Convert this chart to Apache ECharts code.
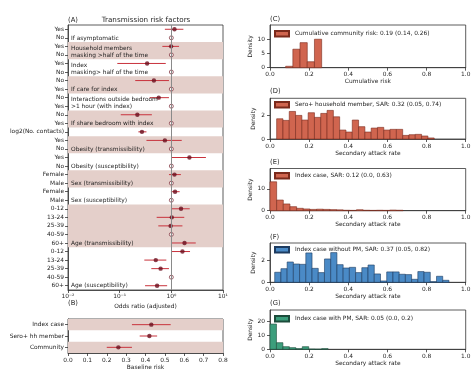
<!DOCTYPE html>
<html>
<head>
<meta charset="utf-8">
<script src="https://cdn.jsdelivr.net/npm/echarts@6.0.0/dist/echarts.min.js"></script>
<style>
html,body{margin:0;padding:0;background:#fff;}
#chart{width:474px;height:374px;}
</style>
</head>
<body>
<div id="chart"></div>
<script>
// ---------- Panel A data ----------
const rowLabels = ['Yes','No','Yes','No','Yes','No','No','Yes','No','Yes','No','Yes','log2(No. contacts)',
  'Yes','No','Yes','No','Female','Male','Female','Male',
  '0-12','13-24','25-39','40-59','60+','0-12','13-24','25-39','40-59','60+'];
const oddsRatio = [1.15,1,0.99,1,0.34,1,0.46,1,0.57,1,0.22,1,0.27,
  0.75,1,2.24,1,1.15,1,1.18,1,
  1.54,1.02,0.97,1,1.80,1.64,0.50,0.62,1,0.53];
const ciLow = [0.75,null,0.67,null,0.09,null,0.20,null,0.38,null,0.105,null,0.23,
  0.33,null,1.02,null,0.90,null,0.98,null,
  1.02,0.52,0.56,null,1.02,1.03,0.30,0.41,null,0.31];
const ciHigh = [1.71,null,1.41,null,0.78,null,0.90,null,0.90,null,0.42,null,0.33,
  1.59,null,4.67,null,1.53,null,1.45,null,
  2.27,1.78,1.64,null,2.97,2.30,0.80,0.90,null,0.83];
const groupNames = ['If asymptomatic','Household members\nmasking >half of the time','Index\nmasking> half of the time',
  'If care for index','Interactions outside bedroom\n>1 hour (with index)','If share bedroom with index','',
  'Obesity (transmissibility)','Obesity (susceptibility)','Sex (transmissibility)','Sex (susceptibility)',
  'Age (transmissibility)','Age (susceptibility)'];
const groupFirstRow = [0,2,4,6,8,10,12,13,15,17,19,21,26];
const groupLastRow  = [1,3,5,7,9,11,12,14,16,18,20,25,30];
const groupShaded   = [0,1,0,1,0,1,0,1,0,1,0,1,0];
const oddsTicks = [0.01,0.1,1,10];

// ---------- Panel B data ----------
const baselineLabels = ['Index case','Sero+ hh member','Community'];
const baselineRisk = [0.43,0.42,0.26];
const baselineLow  = [0.33,0.37,0.20];
const baselineHigh = [0.53,0.46,0.33];
const baselineShaded = [1,0,1];

// ---------- Histograms ----------
const cName = 'Cumulative community risk: 0.19 (0.14, 0.26)';
const cStart = 0.080, cWidth = 0.0368;
const cHeights = [0.5,6.5,8.8,2.1,10.0];

const dName = 'Sero+ household member, SAR: 0.32 (0.05, 0.74)';
const dStart = 0.034, dWidth = 0.0322;
const dHeights = [1.74,1.6,2.37,2.03,1.63,2.26,1.86,2.2,2.46,1.91,0.77,0.6,1.63,1.06,0.6,0.94,1.0,0.77,0.83,0.83,0.31,0.37,0.4,0.26,0.09];

const eName = 'Index case, SAR: 0.12 (0.0, 0.63)';
const eStart = 0.0, eWidth = 0.034;
const eHeights = [13.3,4.9,3.1,1.85,1.1,0.8,0.6,0.7,0.6,0.5,0.4,0.2,0.15,0.45,0.2,0.15,0.2,0.15,0.3,0.2];

const fName = 'Index case without PM, SAR: 0.37 (0.05, 0.82)';
const fStart = 0.024, fWidth = 0.0318;
const fHeights = [0.9,1.22,1.82,1.64,1.61,2.63,1.25,0.87,2.09,2.66,1.58,1.28,1.34,0.87,1.31,1.55,0.75,0.12,0.93,0.93,0.72,0.69,0.27,0.96,0.9,0.06,0.54,0.18];

const gName = 'Index case with PM, SAR: 0.05 (0.0, 0.2)';
const gStart = 0.0, gWidth = 0.033;
const gHeights = [18.3,4.8,1.9,1.2,0.5,1.9,0.2,0.1,0.5];

// ---------- styles ----------
const FONT = 'DejaVu Sans';
const TXT = '#1e1e1e';
const FS = 5.9;
const bandColor = '#e4cfca';
const dotColor = '#6b0f1e';
const ciColor = '#c8323c';
const redFill = '#d0654f', redEdge = '#7a2a1c';
const blueFill = '#4a8ac6', blueEdge = '#1d3b60';
const greenFill = '#3c9e7c', greenEdge = '#1c4c3b';

const chart = echarts.init(document.getElementById('chart'), null, {renderer:'canvas'});

const sup = {'-':'\u207b','0':'\u2070','1':'\u00b9','2':'\u00b2','3':'\u00b3'};
function logLabel(v){ const e = Math.round(Math.log10(v)); return '10' + String(e).split('').map(c=>sup[c]).join(''); }

const grids = [
  {left:68, top:25, width:155, height:265},
  {left:68, top:319, width:155, height:34},
  {left:270, top:25, width:195.7, height:42.7},
  {left:270, top:98.3, width:195.7, height:40.7},
  {left:270, top:168.5, width:195.7, height:42.2},
  {left:270, top:243, width:195.7, height:39.3},
  {left:270, top:310, width:195.7, height:39.3}
].map(g => Object.assign({show:true, borderColor:'#333', borderWidth:0.8, backgroundColor:'transparent'}, g));

const axisLine = {show:true, onZero:false, lineStyle:{color:'#333', width:0.8}};
const axisTick = {show:true, length:3, lineStyle:{color:'#333', width:0.8}};
const lbl = {fontFamily:FONT, fontSize:FS, color:TXT};

function histX(gi, name){
  return {type:'value', gridIndex:gi, min:0, max:1, interval:0.2, splitLine:{show:false}, axisLine, axisTick,
    axisLabel:Object.assign({margin:4, formatter:v=>v.toFixed(1)}, lbl),
    name, nameLocation:'middle', nameGap:11, nameTextStyle:lbl};
}
function histY(gi, max, ticks){
  return {type:'value', gridIndex:gi, min:0, max, splitLine:{show:false}, axisLine,
    axisTick:Object.assign({customValues:ticks}, axisTick),
    axisLabel:Object.assign({margin:5, customValues:ticks}, lbl),
    name:'Density', nameLocation:'middle', nameGap:14, nameRotate:90, nameTextStyle:lbl};
}

const xAxes = [
  {type:'log', logBase:10, gridIndex:0, min:0.01, max:10, splitLine:{show:false}, axisLine, axisTick,
   axisLabel:Object.assign({margin:3, formatter:logLabel, customValues:oddsTicks}, lbl),
   name:'Odds ratio (adjusted)', nameLocation:'middle', nameGap:12, nameTextStyle:lbl},
  {type:'value', gridIndex:1, min:0, max:0.8, interval:0.1, splitLine:{show:false}, axisLine, axisTick,
   axisLabel:Object.assign({margin:4, formatter:v=>v.toFixed(1)}, lbl),
   name:'Baseline risk', nameLocation:'middle', nameGap:11, nameTextStyle:lbl},
  histX(2,'Cumulative risk'), histX(3,'Secondary attack rate'), histX(4,'Secondary attack rate'),
  histX(5,'Secondary attack rate'), histX(6,'Secondary attack rate')
];
const yAxes = [
  {type:'category', gridIndex:0, inverse:true, data:rowLabels.map((_,i)=>'r'+i),
   axisLine, axisTick:Object.assign({alignWithLabel:true}, axisTick),
   axisLabel:Object.assign({margin:4, interval:0, formatter:(v,i)=>rowLabels[i]}, lbl)},
  {type:'category', gridIndex:1, inverse:true, data:baselineLabels,
   axisLine, axisTick:Object.assign({alignWithLabel:true}, axisTick),
   axisLabel:Object.assign({margin:4, interval:0}, lbl)},
  histY(2, 15, [0,5,10]), histY(3, 3.5, [0,2]), histY(4, 19.4, [0,10]), histY(5, 3.52, [0,2]), histY(6, 28.5, [0,10,20])
];

// ---------- series builders ----------
function bandSeries(ai, nRows, rows){
  return {type:'custom', xAxisIndex:ai, yAxisIndex:ai, z:1, silent:true,
    encode:{x:0, y:[1,2]}, data:rows,
    renderItem:(params, api)=>{
      const cs = params.coordSys;
      const h = cs.height / nRows;
      const a = api.coord([api.value(0), api.value(1)]);
      const b = api.coord([api.value(0), api.value(2)]);
      return {type:'rect', shape:{x:cs.x, y:a[1]-h/2, width:cs.width, height:b[1]-a[1]+h}, style:{fill:bandColor}};
    }};
}
function ciSeries(ai, rows){
  return {type:'custom', xAxisIndex:ai, yAxisIndex:ai, z:3, silent:true,
    encode:{x:[1,2], y:0}, data:rows,
    renderItem:(params, api)=>{
      const a = api.coord([api.value(1), api.value(0)]);
      const b = api.coord([api.value(2), api.value(0)]);
      return {type:'line', shape:{x1:a[0], y1:a[1], x2:b[0], y2:b[1]}, style:{stroke:ciColor, lineWidth:1}};
    }};
}
function histSeries(gi, name, start, width, heights, fill, edge){
  const data = heights.map((h,i)=>[start + i*width, start + (i+1)*width, h]);
  return {type:'custom', name, xAxisIndex:gi, yAxisIndex:gi, z:2, silent:true,
    itemStyle:{color:fill, borderColor:edge, borderWidth:0.6},
    encode:{x:[0,1], y:2}, data,
    renderItem:(params, api)=>{
      const p0 = api.coord([api.value(0), 0]);
      const p1 = api.coord([api.value(1), api.value(2)]);
      return {type:'rect', shape:{x:p0[0], y:p1[1], width:p1[0]-p0[0], height:p0[1]-p1[1]},
        style:{fill, stroke:edge, lineWidth:0.6}};
    }};
}

const bandRowsA = [];
groupShaded.forEach((s,i)=>{ if(s) bandRowsA.push([1, groupFirstRow[i], groupLastRow[i]]); });
const bandRowsB = [];
baselineShaded.forEach((s,i)=>{ if(s) bandRowsB.push([0.1, i, i]); });

const ciRowsA = [], dotsA = [], refsA = [];
oddsRatio.forEach((v,i)=>{
  if (ciLow[i] === null) refsA.push([v, i]);
  else { ciRowsA.push([i, ciLow[i], ciHigh[i]]); dotsA.push([v, i]); }
});
const labelRows = [];
groupNames.forEach((n,i)=>{ if(n) labelRows.push([1, groupLastRow[i], i]); });

const series = [
  bandSeries(0, rowLabels.length, bandRowsA),
  {type:'custom', xAxisIndex:0, yAxisIndex:0, z:5, silent:true, encode:{x:0, y:1}, data:labelRows,
   renderItem:(params, api)=>{
     const cs = params.coordSys;
     const p = api.coord([api.value(0), api.value(1)]);
     return {type:'text', x:cs.x+3, y:p[1]+3.7,
       style:{text:groupNames[api.value(2)], fontFamily:FONT, fontSize:FS, fill:TXT, align:'left', verticalAlign:'bottom', lineHeight:7}};
   }},
  ciSeries(0, ciRowsA),
  {type:'scatter', xAxisIndex:0, yAxisIndex:0, z:4, silent:true, symbol:'circle', symbolSize:4.4,
   itemStyle:{color:dotColor}, data:dotsA,
   markLine:{silent:true, symbol:['none','none'], label:{show:false}, lineStyle:{color:'#8a8a8a', width:1, type:'solid'}, data:[{xAxis:1}], animation:false}},
  {type:'scatter', xAxisIndex:0, yAxisIndex:0, z:4, silent:true, symbol:'circle', symbolSize:4,
   itemStyle:{color:'#fff', borderColor:dotColor, borderWidth:0.8}, data:refsA},
  bandSeries(1, baselineLabels.length, bandRowsB),
  ciSeries(1, baselineLow.map((l,i)=>[i, l, baselineHigh[i]])),
  {type:'scatter', xAxisIndex:1, yAxisIndex:1, z:4, silent:true, symbol:'circle', symbolSize:4.4,
   itemStyle:{color:dotColor}, data:baselineRisk.map((v,i)=>[v,i])},
  histSeries(2, cName, cStart, cWidth, cHeights, redFill, redEdge),
  histSeries(3, dName, dStart, dWidth, dHeights, redFill, redEdge),
  histSeries(4, eName, eStart, eWidth, eHeights, redFill, redEdge),
  histSeries(5, fName, fStart, fWidth, fHeights, blueFill, blueEdge),
  histSeries(6, gName, gStart, gWidth, gHeights, greenFill, greenEdge)
];

function legendAt(name, top){
  return {data:[name], left:274, top, padding:0, icon:'rect', itemWidth:14, itemHeight:5.5, itemGap:0,
    selectedMode:false, textStyle:{fontFamily:FONT, fontSize:FS, color:TXT, padding:[0,0,0,1]}};
}

function txt(text, x, y, size, align){
  return {type:'text', x, y, silent:true,
    style:{text, fontFamily:FONT, fontSize:size, fill:TXT, align:align||'left', verticalAlign:'middle'}};
}

chart.setOption({
  animation:false,
  backgroundColor:'#fff',
  grid:grids, xAxis:xAxes, yAxis:yAxes, series,
  legend:[legendAt(cName, 30), legendAt(dName, 101), legendAt(eName, 172), legendAt(fName, 246), legendAt(gName, 315)],
  graphic:[
    txt('(A)', 68, 20, 6.8), txt('Transmission risk factors', 146, 20, 7.2, 'center'),
    txt('(B)', 68, 303.5, 6.8),
    txt('(C)', 270, 19.5, 6.8), txt('(D)', 270, 91, 6.8), txt('(E)', 270, 162.5, 6.8),
    txt('(F)', 270, 237.5, 6.8), txt('(G)', 270, 303, 6.8)
  ]
});
</script>
</body>
</html>
